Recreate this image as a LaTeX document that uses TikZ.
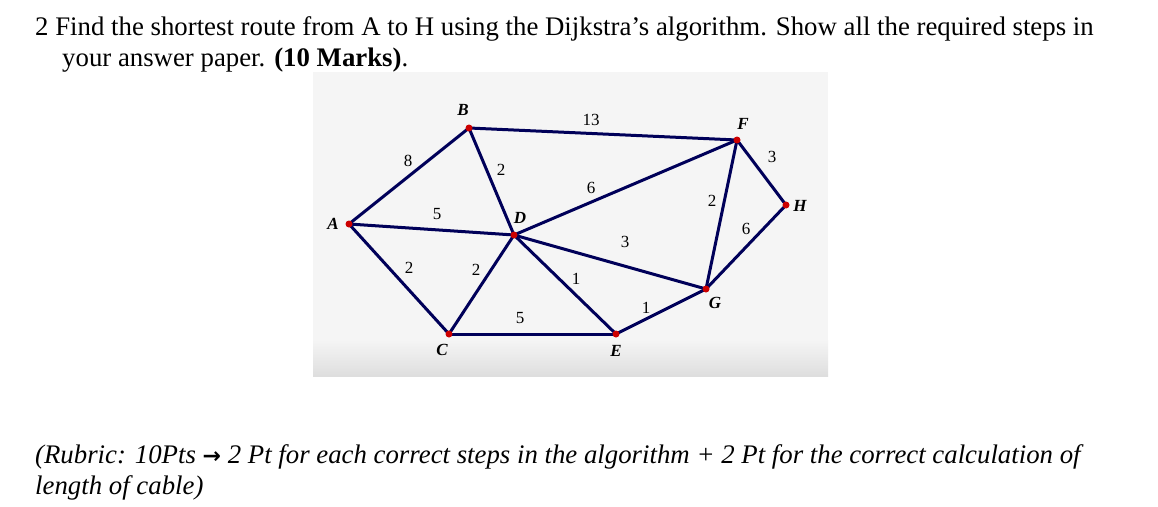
\documentclass[tikz,border=0pt]{standalone}
\usepackage{fontspec}
\setmainfont{Liberation Serif}
\newfontfamily\djv{DejaVu Sans}
\begin{document}
\begin{tikzpicture}[x=1pt,y=-1pt,
  txt/.style={anchor=base west,inner sep=0,font=\fontsize{26.8}{30}\selectfont},
  edge/.style={draw=blue!35!black,line width=3pt},
  vtx/.style={circle,fill=red!80!black,inner sep=0,minimum size=7pt},
  vl/.style={font=\fontsize{17}{19}\selectfont\bfseries\itshape,inner sep=1pt},
  wl/.style={font=\fontsize{17}{19}\selectfont,inner sep=1pt}]
\useasboundingbox (0,0) rectangle (1158,506);
\fill[white] (0,0) rectangle (1158,506);
\fill[black!4] (313,72) rectangle (828,340);
\shade[top color=black!4,bottom color=black!13] (313,340) rectangle (828,376);
\node[txt] (t1) at (35,35) {2 Find the shortest route from A to H using the Dijkstra’s algorithm. Show all the required steps in};
\node[txt] (t2) at (62,66) {your answer paper. \textbf{(10 Marks)}.};
\node[txt] (r1) at (35,463) {\itshape (Rubric: 10Pts {\upshape\bfseries\djv\fontsize{22}{24}\selectfont→} 2 Pt for each correct steps in the algorithm + 2 Pt for the correct calculation of};
\node[txt] (r2) at (35,494) {\itshape length of cable)};
\coordinate (A) at (349,224);
\coordinate (B) at (469,128);
\coordinate (C) at (449,334);
\coordinate (D) at (514,235);
\coordinate (E) at (616,334);
\coordinate (F) at (737,140);
\coordinate (G) at (706,289);
\coordinate (H) at (786,205);
\draw[edge] (A)--(B); \draw[edge] (A)--(D); \draw[edge] (A)--(C);
\draw[edge] (B)--(D); \draw[edge] (B)--(F); \draw[edge] (C)--(D);
\draw[edge] (C)--(E); \draw[edge] (D)--(F); \draw[edge] (D)--(G);
\draw[edge] (D)--(E); \draw[edge] (E)--(G); \draw[edge] (F)--(G);
\draw[edge] (G)--(H); \draw[edge] (F)--(H);
\foreach \v in {A,B,C,D,E,F,G,H} \node[vtx] (v\v) at (\v) {};
\node[vl] (lA) at (333,224) {A};
\node[vl] (lB) at (463,110) {B};
\node[vl] (lC) at (442,350) {C};
\node[vl] (lD) at (520,218) {D};
\node[vl] (lE) at (616,351) {E};
\node[vl] (lF) at (743,124) {F};
\node[vl] (lG) at (715,303) {G};
\node[vl] (lH) at (800,206) {H};
\node[wl] (w1) at (408,161) {8};
\node[wl] (w2) at (591,120) {13};
\node[wl] (w3) at (501,170) {2};
\node[wl] (w4) at (591,188) {6};
\node[wl] (w5) at (437,214) {5};
\node[wl] (w6) at (772,157) {3};
\node[wl] (w7) at (712,201) {2};
\node[wl] (w8) at (746,229) {6};
\node[wl] (w9) at (625,242) {3};
\node[wl] (w10) at (409,268) {2};
\node[wl] (w11) at (476,270) {2};
\node[wl] (w12) at (576,279) {1};
\node[wl] (w13) at (646,308) {1};
\node[wl] (w14) at (520,318) {5};
\end{tikzpicture}
\end{document}
